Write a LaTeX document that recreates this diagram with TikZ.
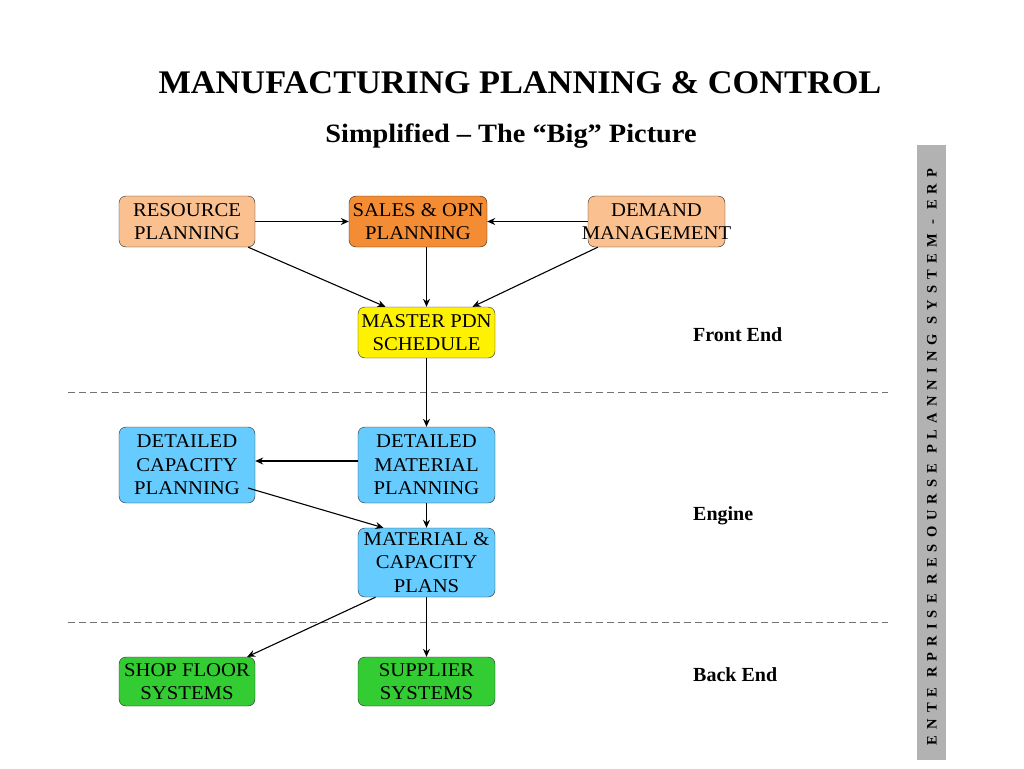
\documentclass[tikz,border=0pt]{standalone}
\usepackage{fontspec}
\setmainfont{Liberation Serif}
\usetikzlibrary{arrows.meta}
\definecolor{peach}{RGB}{250,192,144}
\definecolor{orng}{RGB}{244,140,52}
\definecolor{skyb}{RGB}{102,204,255}
\definecolor{grn}{RGB}{51,204,51}
\tikzset{>={Stealth[length=8pt,width=7pt]},
  blk/.style={draw=black!85,rounded corners=7pt,inner sep=0pt,align=center,
    minimum width=136pt,minimum height=51pt,
    font=\fontsize{19.5}{23.5}\selectfont\addfontfeature{FakeStretch=1.06}},
  sect/.style={anchor=base west,inner sep=0pt,font=\fontsize{20}{22}\selectfont\bfseries},
  divider/.style={black!55,dash pattern=on 7pt off 4pt},
  flow/.style={->,line width=1.1pt}}
\begin{document}
\begin{tikzpicture}[x=1pt,y=-1pt]
\useasboundingbox (0,0) rectangle (1024,768);
\node[anchor=base,inner sep=0pt] (ttl) at (520,93) {\fontsize{33}{36}\selectfont\bfseries\addfontfeature{FakeStretch=1.04}MANUFACTURING PLANNING \& CONTROL};
\node[anchor=base,inner sep=0pt] (sub) at (511,142) {\fontsize{26.5}{30}\selectfont\bfseries\addfontfeature{FakeStretch=1.07}Simplified -- The ``Big'' Picture};
\fill[black!30] (917,145) rectangle (946,760);
\node[rotate=90,inner sep=0pt,font=\fontsize{14.5}{16}\selectfont\bfseries\addfontfeature{LetterSpace=42}] (erp) at (932,457) {ENTE RPRISE RESOURSE PLANNING SYSTEM - ERP};
\node[blk,fill=peach] (res) at (187,221.5) {RESOURCE\\PLANNING};
\node[blk,fill=orng,minimum width=138pt] (sop) at (418,221.5) {\makebox[120pt]{SALES \& OPN}\\PLANNING};
\node[blk,fill=peach,minimum width=137pt] (dem) at (656.5,221.5) {DEMAND\\\makebox[120pt]{MANAGEMENT}};
\node[blk,fill=yellow,minimum width=137pt] (mps) at (426.5,332.5) {MASTER PDN\\SCHEDULE};
\node[blk,fill=skyb,minimum height=76pt] (dcp) at (187,465) {DETAILED\\CAPACITY\\PLANNING};
\node[blk,fill=skyb,minimum width=137pt,minimum height=76pt] (dmp) at (426.5,465) {DETAILED\\MATERIAL\\PLANNING};
\node[blk,fill=skyb,minimum width=137pt,minimum height=69pt] (mcp) at (426.5,562.5) {MATERIAL \&\\CAPACITY\\PLANS};
\node[blk,fill=grn,minimum height=49pt] (shop) at (187,681.5) {SHOP FLOOR\\SYSTEMS};
\node[blk,fill=grn,minimum width=137pt,minimum height=49pt] (sup) at (426.5,681.5) {SUPPLIER\\SYSTEMS};
\node[sect] (fe) at (693,341) {Front End};
\node[sect] (eng) at (693,520) {Engine};
\node[sect] (be) at (693,681) {Back End};
\draw[divider] (68,392) -- (888,392);
\draw[divider] (68,622) -- (888,622);
\draw[flow] (res.east) -- (sop.west);
\draw[flow] (dem.west) -- (sop.east);
\draw[flow] ([xshift=-7pt]res.south east) -- ([xshift=-41pt]mps.north);
\draw[flow] (sop.south -| mps.north) -- (mps.north);
\draw[flow] ([xshift=10pt]dem.south west) -- ([xshift=46pt]mps.north);
\draw[flow] (mps.south) -- (dmp.north);
\draw[flow] ([yshift=4pt]dmp.west) -- ([yshift=4pt]dcp.east);
\draw[flow] ([shift={(61,23)}]dcp.center) -- ([xshift=-43pt]mcp.north);
\draw[flow] (dmp.south) -- (mcp.north);
\draw[flow] ([xshift=-51pt]mcp.south) -- ([xshift=-8pt]shop.north east);
\draw[flow] (mcp.south) -- (sup.north);
\end{tikzpicture}
\end{document}
